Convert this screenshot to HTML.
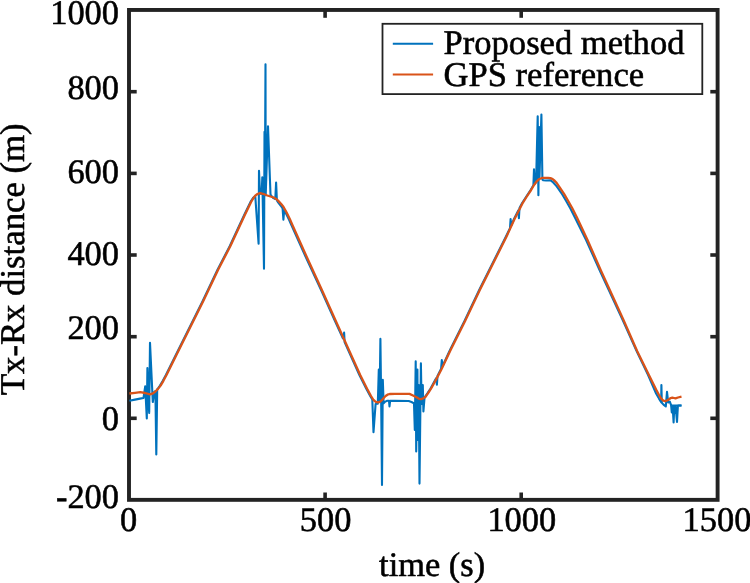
<!DOCTYPE html>
<html lang="en">
<head>
<meta charset="utf-8">
<title>Tx-Rx distance vs time</title>
<style>
html,body{margin:0;padding:0;background:#fff;}
body{width:750px;height:583px;overflow:hidden;}
svg{display:block;}
text{text-rendering:geometricPrecision;font-family:"Liberation Serif","Times New Roman",serif;font-size:34.7px;fill:#000;stroke:#000;stroke-width:0.55px;}
.tk text{font-size:34.4px;}
.xl{font-size:34.4px;}
.lg{font-size:34.55px;}
</style>
</head>
<body>
<svg width="750" height="583" viewBox="0 0 750 583">
<rect x="0" y="0" width="750" height="583" fill="#ffffff"/>
<g stroke="#232323" stroke-width="3.6" fill="none">
<line x1="325.1" y1="499.8" x2="325.1" y2="492.5"/>
<line x1="325.1" y1="9.95" x2="325.1" y2="17.8"/>
<line x1="521.2" y1="499.8" x2="521.2" y2="492.5"/>
<line x1="521.2" y1="9.95" x2="521.2" y2="17.8"/>
<line x1="129.0" y1="418.3" x2="136.7" y2="418.3"/>
<line x1="717.6" y1="418.3" x2="710.3" y2="418.3"/>
<line x1="129.0" y1="336.7" x2="136.7" y2="336.7"/>
<line x1="717.6" y1="336.7" x2="710.3" y2="336.7"/>
<line x1="129.0" y1="255.0" x2="136.7" y2="255.0"/>
<line x1="717.6" y1="255.0" x2="710.3" y2="255.0"/>
<line x1="129.0" y1="173.4" x2="136.7" y2="173.4"/>
<line x1="717.6" y1="173.4" x2="710.3" y2="173.4"/>
<line x1="129.0" y1="91.7" x2="136.7" y2="91.7"/>
<line x1="717.6" y1="91.7" x2="710.3" y2="91.7"/>
</g>
<rect x="129.0" y="9.95" width="588.6" height="489.9" fill="none" stroke="#232323" stroke-width="3.9"/>
<g fill="none" stroke-linejoin="round" stroke-linecap="butt">
<polyline stroke="#0072BD" stroke-width="2.1" points="129.4,400.8 135.0,399.6 140.0,398.6 143.5,398.0 145.2,386.3 146.8,418.5 147.4,368.0 148.4,398.0 149.2,412.9 150.0,342.7 152.8,402.0 154.3,392.3 155.4,391.0 156.3,454.5 157.2,389.3 158.0,388.3 160.0,385.6 162.8,380.8 165.9,375.0 175.8,355.0 202.7,301.0 217.4,270.0 229.8,246.0 244.2,215.0 250.5,201.9 253.0,198.0 255.3,196.5 258.6,243.7 259.0,170.8 260.0,193.6 261.7,193.4 262.3,177.3 264.0,268.7 264.5,131.9 264.9,185.0 265.5,64.3 265.7,195.3 268.0,126.2 270.5,194.7 273.0,197.8 275.3,199.0 276.1,182.5 276.9,200.5 278.3,202.6 281.0,206.0 282.6,208.5 283.4,219.7 284.2,210.2 286.0,213.5 289.2,220.0 291.4,225.0 305.3,256.0 321.1,290.0 335.0,321.0 342.9,338.4 344.1,332.6 344.6,342.0 359.4,375.0 366.3,388.7 370.5,396.5 372.3,399.5 373.5,432.1 375.6,404.0 377.8,403.8 378.8,369.5 379.6,400.0 380.4,338.9 381.2,404.0 382.0,485.0 382.8,379.8 383.6,403.4 385.3,401.6 387.3,400.8 389.0,400.8 389.5,406.5 390.1,400.8 395.0,400.9 408.7,401.0 411.5,402.0 414.0,403.4 414.8,430.0 415.7,361.4 416.2,451.4 417.4,369.5 417.9,440.0 418.7,385.0 419.5,483.6 420.9,363.4 421.6,404.0 422.8,385.0 423.4,411.5 424.6,397.0 425.2,396.5 427.7,392.9 430.4,388.7 435.7,379.1 436.3,378.2 436.9,384.7 437.5,376.0 440.5,370.0 441.1,368.8 441.8,360.1 442.5,366.2 450.0,350.0 464.5,321.0 479.2,290.0 505.7,237.0 510.0,228.2 510.6,219.0 511.2,225.6 513.6,219.8 518.3,210.4 518.9,218.2 519.5,208.0 522.0,203.3 526.0,197.0 530.6,190.0 533.4,185.3 534.0,169.4 534.7,184.0 536.1,182.0 537.7,116.3 538.4,195.2 539.1,127.0 539.5,177.0 541.4,114.5 542.4,179.5 543.2,180.3 546.0,180.5 550.6,180.4 552.6,181.8 554.4,183.8 556.3,185.9 558.3,188.6 562.3,194.5 566.3,201.2 570.4,208.5 574.8,217.2 586.1,240.0 600.0,271.0 622.7,320.0 636.6,351.0 648.1,375.0 656.1,393.5 659.0,398.6 661.2,402.2 661.4,385.1 661.8,402.8 663.5,404.6 665.8,406.5 667.0,391.9 668.2,402.5 669.8,401.6 671.1,405.2 671.8,412.5 672.6,406.0 673.6,422.4 674.3,406.0 675.0,413.0 675.6,406.5 676.2,413.0 677.0,422.0 677.9,405.7 679.0,405.5 681.5,405.5"/>
<polyline stroke="#0072BD" stroke-width="2.1" points="671.0,405.0 672.0,405.6 681.5,405.5"/>
<polyline stroke="#D95319" stroke-width="2.3" points="129.4,393.5 135.0,392.8 140.3,392.2 145.0,393.0 150.0,394.4 153.0,393.3 155.6,391.3 158.0,388.9 160.6,385.6 163.4,380.8 166.5,375.0 176.4,355.0 203.3,301.0 218.0,270.0 230.4,246.0 244.8,215.0 251.1,201.9 253.5,198.0 255.2,195.7 257.5,194.0 260.0,193.1 263.0,193.8 267.3,195.5 273.7,197.5 276.5,199.2 278.5,201.1 281.0,203.8 283.4,206.8 286.5,212.3 289.8,218.9 292.4,225.0 306.3,256.0 321.9,290.0 335.8,321.0 360.2,375.0 367.1,388.7 371.0,396.0 373.5,400.0 375.8,401.8 378.0,402.4 380.0,401.8 381.6,400.4 383.5,398.2 385.6,396.0 387.5,394.7 389.7,394.0 395.0,393.8 409.5,393.9 413.0,395.5 417.0,397.6 419.0,398.8 420.9,399.2 423.3,398.3 425.7,396.7 428.3,392.9 431.0,388.7 436.3,379.1 441.1,370.0 450.6,350.0 465.1,321.0 479.8,290.0 506.3,237.0 514.2,219.8 522.3,203.7 526.5,197.0 531.1,190.0 534.2,184.7 536.8,181.3 539.0,179.2 542.3,177.8 548.1,177.9 550.5,178.2 552.1,178.8 554.0,180.1 556.1,182.2 560.2,188.1 564.2,194.2 568.2,201.0 572.3,208.3 576.7,217.0 587.5,240.0 601.1,271.0 623.5,320.0 637.1,351.0 648.9,375.0 656.1,389.5 659.0,395.0 661.0,398.4 663.0,400.4 665.0,401.2 667.0,400.5 669.0,399.2 670.8,398.0 672.3,397.6 674.0,398.0 675.5,398.4 678.0,397.5 681.5,396.6"/>
</g>
<g>
<rect x="382.5" y="23.8" width="319.8" height="70.3" fill="#ffffff" stroke="#232323" stroke-width="1.8"/>
<line x1="392.8" y1="43.8" x2="433.1" y2="43.8" stroke="#0072BD" stroke-width="2"/>
<line x1="392.8" y1="74.5" x2="433.1" y2="74.5" stroke="#D95319" stroke-width="2"/>
<text class="lg" x="443.6" y="54.2">Proposed method</text>
<text class="lg" x="443.6" y="86.0">GPS reference</text>
</g>
<g class="tk">
<text x="119" y="23.5" text-anchor="end">1000</text>
<text x="119" y="99.2" text-anchor="end">800</text>
<text x="119" y="183.1" text-anchor="end">600</text>
<text x="119" y="265.4" text-anchor="end">400</text>
<text x="119" y="339.3" text-anchor="end">200</text>
<text x="119" y="430.2" text-anchor="end">0</text>
<text x="119" y="507.8" text-anchor="end">-200</text>
</g>
<g class="tk">
<text x="128.7" y="531.25" text-anchor="middle">0</text>
<text x="325.6" y="531.25" text-anchor="middle">500</text>
<text x="521.8" y="531.25" text-anchor="middle">1000</text>
<text x="717.0" y="531.25" text-anchor="middle">1500</text>
</g>
<text x="432.1" y="575.7" text-anchor="middle" class="xl">time (s)</text>
<text transform="translate(23.9,259.3) rotate(-90)" text-anchor="middle">Tx-Rx distance (m)</text>
</svg>
</body>
</html>
